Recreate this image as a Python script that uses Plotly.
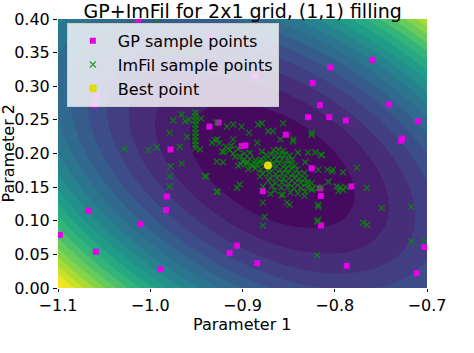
import numpy as np
import plotly.graph_objects as go

# ---------------- data ----------------
gp_p1 = [-0.935, -0.886, -1.058, -1.060, -1.013,
         -0.824, -0.805, -0.759, -0.816, -0.741, -0.710,
         -0.829, -0.806, -0.788, -0.727, -0.728,
         -0.936, -0.926, -0.901, -0.897, -0.853, -0.978,
         -0.782, -0.815, -0.816, -0.825, -0.878,
         -0.982, -0.983, -1.067, -1.011,
         -1.098, -1.059, -0.989, -0.906, -0.914, -0.884, -0.787, -0.711, -0.703, -0.815]
gp_p2 = [0.373, 0.315, 0.285, 0.272, 0.399,
         0.305, 0.328, 0.339, 0.272, 0.273, 0.248,
         0.254, 0.254, 0.249, 0.222, 0.219,
         0.240, 0.246, 0.211, 0.212, 0.228, 0.206,
         0.151, 0.137, 0.148, 0.178, 0.144,
         0.136, 0.116, 0.115, 0.095,
         0.079, 0.054, 0.028, 0.063, 0.052, 0.037, 0.033, 0.022, 0.061, 0.093]

imfil_points = [
    # outer scattered samples
    (-1.028, 0.207), (-1.002, 0.205), (-0.993, 0.209), (-0.978, 0.181), (-0.966, 0.185),
    (-0.979, 0.166), (-0.979, 0.151), (-0.975, 0.249), (-0.966, 0.258), (-0.979, 0.231),
    (-0.968, 0.210), (-0.960, 0.225), (-0.946, 0.206), (-0.939, 0.166), (-0.927, 0.143),
    (-0.917, 0.240), (-0.879, 0.245), (-0.867, 0.233), (-0.856, 0.245), (-0.845, 0.218),
    (-0.825, 0.228), (-0.815, 0.198), (-0.802, 0.176), (-0.791, 0.172), (-0.776, 0.179),
    (-0.765, 0.149), (-0.749, 0.119), (-0.717, 0.121), (-0.878, 0.127), (-0.876, 0.106),
    (-0.852, 0.127), (-0.818, 0.121), (-0.818, 0.101), (-0.769, 0.097), (-0.878, 0.093),
    (-0.819, 0.099), (-0.765, 0.094), (-0.819, 0.049), (-0.717, 0.069), (-0.702, 0.070),
    (-0.993, 0.399), (-1.035, 0.352), (-0.985, 0.350), (-0.975, 0.352), (-0.965, 0.351),
    (-0.955, 0.350),
    # vertical streak
    (-0.951, 0.261), (-0.951, 0.255), (-0.951, 0.249), (-0.951, 0.243), (-0.951, 0.237),
    (-0.951, 0.231), (-0.951, 0.225), (-0.951, 0.219), (-0.951, 0.213), (-0.951, 0.208),
    (-0.958, 0.250), (-0.945, 0.252), (-0.962, 0.248),
    # left group
    (-0.918, 0.210), (-0.914, 0.205), (-0.910, 0.200), (-0.920, 0.202), (-0.912, 0.212),
    (-0.905, 0.207), (-0.925, 0.215), (-0.930, 0.220), (-0.908, 0.195), (-0.898, 0.200),
    (-0.928, 0.246), (-0.910, 0.243), (-0.901, 0.240), (-0.893, 0.231), (-0.883, 0.243),
    (-0.927, 0.221), (-0.933, 0.216), (-0.922, 0.203), (-0.928, 0.188), (-0.921, 0.187),
    (-0.910, 0.221), (-0.903, 0.196), (-0.895, 0.187), (-0.892, 0.201), (-0.884, 0.216),
    (-0.879, 0.203), (-0.889, 0.181), (-0.881, 0.187), (-0.903, 0.154), (-0.906, 0.149),
    (-0.941, 0.166), (-0.928, 0.143), (-0.881, 0.166), (-0.878, 0.151),
    # right group
    (-0.829, 0.2015), (-0.821, 0.2015), (-0.814, 0.198), (-0.832, 0.187), (-0.818, 0.176),
    (-0.808, 0.176), (-0.803, 0.173), (-0.798, 0.151), (-0.807, 0.158), (-0.829, 0.157),
    (-0.825, 0.146), (-0.818, 0.124), (-0.849, 0.124), (-0.856, 0.139), (-0.859, 0.221),
    (-0.845, 0.221), (-0.825, 0.231), (-0.872, 0.233), (-0.840, 0.2015),
    (-0.794, 0.149), (-0.791, 0.146), (-0.788, 0.150), (-0.796, 0.144),
    # dense core around the optimum
    (-0.866, 0.205), (-0.861, 0.206), (-0.856, 0.204),
    (-0.874, 0.198), (-0.869, 0.199), (-0.864, 0.197), (-0.859, 0.198), (-0.854, 0.199), (-0.849, 0.197),
    (-0.898, 0.191), (-0.892, 0.192), (-0.886, 0.190), (-0.880, 0.191), (-0.875, 0.192),
    (-0.869, 0.190), (-0.863, 0.191), (-0.857, 0.192), (-0.851, 0.190), (-0.846, 0.191),
    (-0.902, 0.184), (-0.896, 0.185), (-0.890, 0.183), (-0.884, 0.184), (-0.878, 0.185),
    (-0.872, 0.183), (-0.866, 0.184), (-0.860, 0.185), (-0.854, 0.183), (-0.848, 0.184), (-0.843, 0.182),
    (-0.894, 0.177), (-0.886, 0.178), (-0.880, 0.176), (-0.871, 0.177), (-0.865, 0.178),
    (-0.859, 0.176), (-0.853, 0.177), (-0.847, 0.178), (-0.841, 0.176),
    (-0.878, 0.170), (-0.871, 0.171), (-0.864, 0.169), (-0.857, 0.170), (-0.851, 0.171),
    (-0.845, 0.169), (-0.839, 0.170), (-0.833, 0.171),
    (-0.870, 0.163), (-0.863, 0.164), (-0.856, 0.162), (-0.850, 0.163), (-0.844, 0.164),
    (-0.838, 0.162), (-0.832, 0.163),
    (-0.864, 0.156), (-0.857, 0.157), (-0.850, 0.155), (-0.843, 0.156), (-0.837, 0.157),
    (-0.831, 0.155), (-0.825, 0.156),
    (-0.858, 0.149), (-0.851, 0.150), (-0.844, 0.148), (-0.837, 0.149), (-0.830, 0.150),
    (-0.824, 0.148), (-0.818, 0.149),
    (-0.848, 0.142), (-0.840, 0.141), (-0.832, 0.143),
    (-0.858, 0.138), (-0.865, 0.145), (-0.870, 0.140), (-0.872, 0.160), (-0.868, 0.152),
    (-0.814, 0.150), (-0.833, 0.137), (-0.905, 0.182), (-0.900, 0.188),
]
imfil_p1 = [p[0] for p in imfil_points]
imfil_p2 = [p[1] for p in imfil_points]

best_p1 = [-0.8724]
best_p2 = [0.182]

x_ticks = [-1.1, -1.0, -0.9, -0.8, -0.7]
y_ticks = [0.0, 0.05, 0.10, 0.15, 0.20, 0.25, 0.30, 0.35, 0.40]

center_p1, center_p2 = -0.868, 0.182
coef_11, coef_12, coef_22 = 8.0, 7.3, 7.5
level_step = 0.05

p1 = np.linspace(-1.1, -0.7, 301)
p2 = np.linspace(0.0, 0.4, 301)
P1, P2 = np.meshgrid(p1, p2)
d1, d2 = P1 - center_p1, P2 - center_p2
Z = coef_11 * d1**2 + coef_12 * d1 * d2 + coef_22 * d2**2

FONT = "DejaVu Sans"
W, H = 474, 353
ML, MR, MT, MB = 58, 47, 19, 65
PW, PH = W - ML - MR, H - MT - MB

fig = go.Figure()
fig.add_trace(go.Contour(
    x=p1, y=p2, z=Z, colorscale="Viridis", showscale=False,
    zmin=0, zmax=float(Z.max()),
    contours=dict(coloring="fill", start=0, end=float(Z.max()) + level_step, size=level_step),
    line=dict(width=0), hoverinfo="skip", showlegend=False,
))
fig.add_trace(go.Scatter(
    x=gp_p1, y=gp_p2, mode="markers", name="GP sample points",
    marker=dict(symbol="square", size=6, color="#e600e6", line=dict(width=0)),
))
fig.add_trace(go.Scatter(
    x=imfil_p1, y=imfil_p2, mode="markers", name="ImFil sample points",
    marker=dict(symbol="x-thin", size=6, color="rgba(0,145,0,0.8)",
                line=dict(width=1.3, color="rgba(0,145,0,0.8)")),
))
fig.add_trace(go.Scatter(
    x=best_p1, y=best_p2, mode="markers", name="Best point",
    marker=dict(symbol="circle", size=8, color="#dede00", line=dict(width=0)),
))

fig.update_layout(
    width=W, height=H,
    margin=dict(l=ML, r=MR, t=MT, b=MB),
    paper_bgcolor="white", plot_bgcolor="white",
    font=dict(family=FONT, size=16, color="black"),
    title=dict(text="GP+ImFil for 2x1 grid, (1,1) filling", x=0.512, xanchor="center",
               y=1 - 11 / H, yanchor="middle", yref="container",
               font=dict(family=FONT, size=19, color="black")),
    legend=dict(x=0.024, y=0.986, xanchor="left", yanchor="top", itemwidth=40,
                bgcolor="rgba(255,255,255,0.8)", bordercolor="#cccccc", borderwidth=1,
                font=dict(family=FONT, size=16, color="black"), tracegroupgap=0),
    xaxis=dict(range=[-1.1, -0.7], tickvals=x_ticks, tickformat=".1f", automargin=False,
               ticks="outside", ticklen=3, tickcolor="black", showgrid=False, zeroline=False),
    yaxis=dict(range=[0.0, 0.4], tickvals=y_ticks, tickformat=".2f", automargin=False,
               ticks="outside", ticklen=4, tickcolor="black", showgrid=False, zeroline=False),
    annotations=[
        dict(text="Parameter 1", xref="paper", yref="paper", x=0.5,
             y=-(325 - (MT + PH)) / PH, xanchor="center", yanchor="middle",
             showarrow=False, borderpad=0, font=dict(family=FONT, size=16, color="black")),
        dict(text="Parameter 2", xref="paper", yref="paper", x=-(ML - 8) / PW,
             y=0.5, xanchor="center", yanchor="middle", textangle=-90,
             showarrow=False, borderpad=0, font=dict(family=FONT, size=16, color="black")),
    ],
)

fig.write_html("out.html")
